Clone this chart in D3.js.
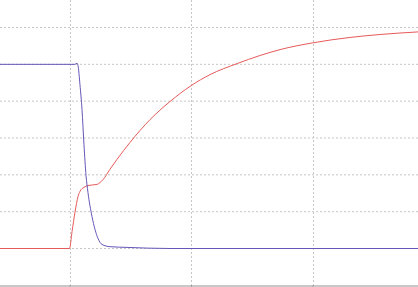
<!DOCTYPE html>
<html>
<head>
<meta charset="utf-8">
<script src="https://cdn.jsdelivr.net/npm/d3@7"></script>
<style>
  html, body { margin: 0; padding: 0; background: #fff; }
  svg { display: block; }
</style>
</head>
<body>
<svg id="chart"></svg>
<script>
// time axis (step at t = 0), grid every 1 unit
const xTicks = [0, 1, 2];
const yTicks = [0, 1, 2, 3, 4, 5, 6];

// response (red) : rises after the step
const redT = [-0.572, 0, 0.021, 0.045, 0.070, 0.086, 0.119, 0.152, 0.226, 0.251, 0.276, 0.333, 0.391, 0.498, 0.663, 0.827, 1.0, 1.156, 1.379, 1.568, 1.733, 1.996, 2.309, 2.556, 2.868];
const redV = [0, 0, 0.46, 0.98, 1.41, 1.55, 1.66, 1.71, 1.74, 1.79, 1.87, 2.15, 2.42, 2.88, 3.50, 3.99, 4.42, 4.72, 5.02, 5.24, 5.40, 5.58, 5.73, 5.81, 5.88];

// blue : drops right after the step
const blueT = [-0.572, 0.045, 0.062, 0.070, 0.086, 0.103, 0.119, 0.136, 0.152, 0.185, 0.235, 0.267, 0.333, 0.473, 0.827, 2.868];
const blueV = [5.0, 5.0, 5.03, 4.97, 4.45, 3.77, 2.82, 1.98, 1.52, 0.87, 0.27, 0.11, 0.05, 0.03, 0.0, 0.0];

const width = 418, height = 287;
const axisY = 286;

const svg = d3.select('#chart')
    .attr('width', width)
    .attr('height', height);

const xScale = d3.scaleLinear()
    .domain([-0.572, 2.868])
    .range([0, width]);

const yScale = d3.scaleLinear()
    .domain([0, 6])
    .range([248.5, 27.5]);

// grid
svg.append('g')
  .selectAll('line')
  .data(yTicks)
  .join('line')
    .attr('x1', 0)
    .attr('x2', width)
    .attr('y1', d => yScale(d))
    .attr('y2', d => yScale(d))
    .attr('stroke', '#c6c6c6')
    .attr('stroke-dasharray', '2,2');

svg.append('g')
  .selectAll('line')
  .data(xTicks)
  .join('line')
    .attr('x1', d => Math.round(xScale(d)) + 0.5)
    .attr('x2', d => Math.round(xScale(d)) + 0.5)
    .attr('y1', 0)
    .attr('y2', axisY)
    .attr('stroke', '#c6c6c6')
    .attr('stroke-dasharray', '2,2');

// bottom axis band
const xAxis = d3.axisBottom(xScale)
    .tickValues(xTicks)
    .tickSizeOuter(0)
    .tickSizeInner(2)
    .tickFormat('');

const xAxisG = svg.append('g')
    .attr('transform', `translate(0,${axisY - 1})`)
    .call(xAxis);
xAxisG.select('.domain')
    .attr('stroke', '#c8c8c8')
    .attr('stroke-width', 2)
    .attr('d', `M0,1H${width}`);
xAxisG.selectAll('.tick line')
    .attr('stroke', '#a0a0a0');

// lines
const line = d3.line()
    .x(d => xScale(d[0]))
    .y(d => yScale(d[1]))
    .curve(d3.curveMonotoneX);

svg.append('path')
    .datum(redT.map((t, i) => [t, redV[i]]))
    .attr('fill', 'none')
    .attr('stroke', '#e65a5a')
    .attr('stroke-width', 1)
    .attr('d', line);

svg.append('path')
    .datum(blueT.map((t, i) => [t, blueV[i]]))
    .attr('fill', 'none')
    .attr('stroke', '#6656b8')
    .attr('stroke-width', 1)
    .attr('d', line);
</script>
</body>
</html>
